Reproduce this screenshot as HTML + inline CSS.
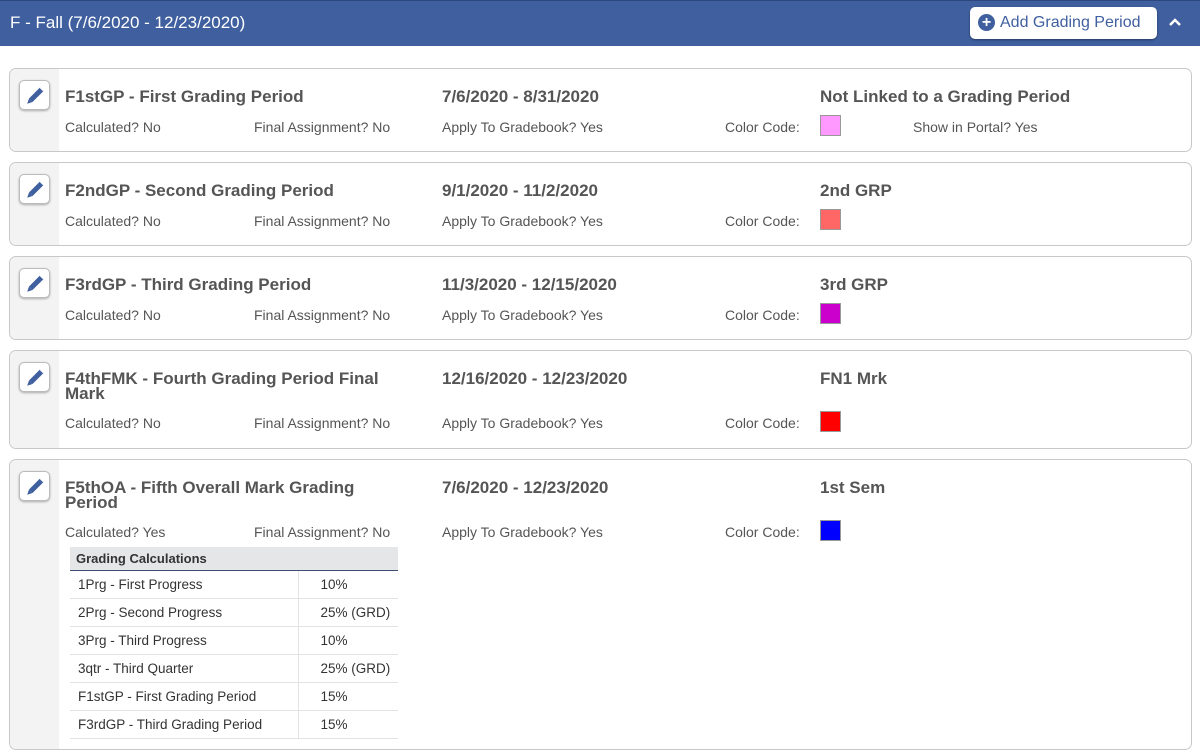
<!DOCTYPE html>
<html><head><meta charset="utf-8"><style>
*{box-sizing:border-box;margin:0;padding:0}
body{width:1200px;height:755px;overflow:hidden;background:#fff;font-family:"Liberation Sans",sans-serif;color:#555;position:relative}
.hdr{position:absolute;left:0;top:0;width:1200px;height:46px;background:#3f5f9f;border-top:1px solid #2c4780}
.hdr .t{position:absolute;left:10px;top:12px;color:#fff;font-size:17px}
.btn{position:absolute;left:970px;top:6px;width:187px;height:32px;background:#fff;border-radius:5px;box-shadow:0 1px 2px rgba(0,0,0,.4);color:#3f5f9f;font-size:16px}
.btn .pl{position:absolute;left:8px;top:7px;width:17px;height:17px;border-radius:50%;background:#3f5f9f;color:#fff;font-weight:bold;font-size:16px;line-height:17px;text-align:center}
.btn .l{position:absolute;left:30px;top:7px}
.car{position:absolute;left:1168px;top:10px;color:#fff;font-size:18px}
.card{position:absolute;left:9px;width:1183px;border:1px solid #c8c8c8;border-radius:7px;background:#fff;overflow:hidden}
.strip{position:absolute;left:0;top:0;bottom:0;width:49px;background:#f3f3f3}
.ed{position:absolute;left:9px;top:11px;width:31px;height:30px;background:#fff;border:1px solid #bbb;border-radius:5px;box-shadow:0 1px 2px rgba(0,0,0,.3)}
.ab{position:absolute;white-space:nowrap}
.ti{font-size:17px;font-weight:bold;color:#555;line-height:15px}
.sm{font-size:14px;color:#555}
.sw{position:absolute;width:21px;height:21px;border:1px solid #999}
table{position:absolute;left:60px;border-collapse:collapse;width:328px;font-size:13.5px;color:#333}
th{background:#e4e6e7;text-align:left;height:23px;padding-left:6px;border-bottom:1px solid #3f4f6f;font-size:13px}
td{height:28px;border-bottom:1px solid #e3e3e3;padding-left:8px}
td+td{border-left:1px solid #e3e3e3;padding-left:22px}
</style></head><body>
<div class="hdr">
<div class="t">F - Fall (7/6/2020 - 12/23/2020)</div>
<div class="btn"><span class="pl">+</span><span class="l">Add Grading Period</span></div>
<div class="car"><svg width="14" height="10"><polyline points="2,8 7,3 12,8" fill="none" stroke="#fff" stroke-width="2.5"/></svg></div>
</div>
<div id="cards"></div>
<script>
const pencil='<svg width="31" height="30" viewBox="0 0 31 30"><g transform="rotate(45 15 15)"><rect x="12.5" y="5" width="5" height="16" fill="#3f5f9f"/><polygon points="12.5,21 17.5,21 15,26" fill="#3f5f9f"/><rect x="12.5" y="4" width="5" height="2" fill="#fff"/></g></svg>';
const cards=[
{top:68,h:84,title:'F1stGP - First Grading Period',dates:'7/6/2020 - 8/31/2020',link:'Not Linked to a Grading Period',calc:'No',color:'#ff99ff',portal:true,two:false},
{top:162,h:84,title:'F2ndGP - Second Grading Period',dates:'9/1/2020 - 11/2/2020',link:'2nd GRP',calc:'No',color:'#ff6666'},
{top:256,h:84,title:'F3rdGP - Third Grading Period',dates:'11/3/2020 - 12/15/2020',link:'3rd GRP',calc:'No',color:'#cc00cc'},
{top:350,h:99,title:'F4thFMK - Fourth Grading Period Final<br>Mark',dates:'12/16/2020 - 12/23/2020',link:'FN1 Mrk',calc:'No',color:'#ff0000',two:true},
{top:459,h:291,title:'F5thOA - Fifth Overall Mark Grading<br>Period',dates:'7/6/2020 - 12/23/2020',link:'1st Sem',calc:'Yes',color:'#0000ff',two:true,table:true}];
const rows=[['1Prg - First Progress','10%'],['2Prg - Second Progress','25% (GRD)'],['3Prg - Third Progress','10%'],['3qtr - Third Quarter','25% (GRD)'],['F1stGP - First Grading Period','15%'],['F3rdGP - Third Grading Period','15%']];
let html='';
cards.forEach((c,i)=>{
 const r=c.two?64:50;
 html+=`<div class="card" style="top:${c.top}px;height:${c.h}px"><div class="strip"></div>
<div class="ed">${pencil}</div>
<div class="ab ti" style="left:55px;top:20px">${c.title}</div>
<div class="ab ti" style="left:432px;top:20px">${c.dates}</div>
<div class="ab ti" style="left:810px;top:20px">${c.link}</div>
<div class="ab sm" style="left:55px;top:${r}px">Calculated? ${c.calc}</div>
<div class="ab sm" style="left:244px;top:${r}px">Final Assignment? No</div>
<div class="ab sm" style="left:432px;top:${r}px">Apply To Gradebook? Yes</div>
<div class="ab sm" style="left:715px;top:${r}px">Color Code:</div>
<div class="sw" style="left:810px;top:${r-4}px;background:${c.color}"></div>
${c.portal?`<div class="ab sm" style="left:903px;top:${r}px">Show in Portal? Yes</div>`:''}
${c.table?`<table style="top:87px"><tr><th colspan="2">Grading Calculations</th></tr>${rows.map(x=>`<tr><td style="width:228px">${x[0]}</td><td>${x[1]}</td></tr>`).join('')}</table>`:''}
</div>`;
});
document.getElementById('cards').innerHTML=html;
</script>
</body></html>
